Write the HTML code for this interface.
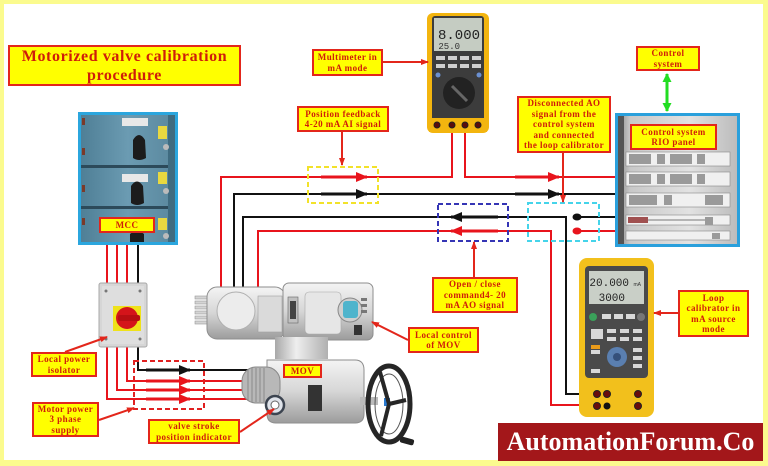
<!DOCTYPE html>
<html><head><meta charset="utf-8">
<style>
html,body{margin:0;padding:0;}
body{width:768px;height:466px;position:relative;overflow:hidden;background:#fbfb8e;font-family:"Liberation Serif",serif;}
.inner{position:absolute;left:4px;top:4px;width:759px;height:456px;background:#fff;}
svg{position:absolute;left:0;top:0;}
.lb{position:absolute;box-sizing:border-box;border:2px solid #e3261b;background:#ffff00;color:#cf1d0a;font-weight:bold;font-size:9px;line-height:10.5px;text-align:center;display:flex;align-items:center;justify-content:center;letter-spacing:0.45px;white-space:nowrap;}
.logo{position:absolute;left:498px;top:423px;width:265px;height:38px;background:#a3171a;color:#fff;font-weight:bold;font-size:26px;line-height:38px;text-align:center;font-family:"Liberation Serif",serif;white-space:nowrap;}
</style></head><body>
<div class="inner"></div>
<svg width="768" height="466" viewBox="0 0 768 466">
<defs>
<marker id="ar" markerWidth="8" markerHeight="8" refX="7" refY="4" orient="auto" markerUnits="userSpaceOnUse"><path d="M0,1 L8,4 L0,7 z" fill="#e3261b"/></marker>
<marker id="ag" markerWidth="9" markerHeight="9" refX="8" refY="4.5" orient="auto-start-reverse" markerUnits="userSpaceOnUse"><path d="M0,0 L9,4.5 L0,9 z" fill="#22dd22"/></marker>
<marker id="hr" markerWidth="12" markerHeight="10" refX="11" refY="5" orient="auto" markerUnits="userSpaceOnUse"><path d="M0,0 L12,5 L0,10 z" fill="#e8141c"/></marker>
<marker id="hb" markerWidth="12" markerHeight="10" refX="11" refY="5" orient="auto" markerUnits="userSpaceOnUse"><path d="M0,0 L12,5 L0,10 z" fill="#111"/></marker>
<linearGradient id="mv" x1="0" y1="0" x2="0" y2="1"><stop offset="0" stop-color="#f4f4f4"/><stop offset="0.5" stop-color="#d6d6d6"/><stop offset="1" stop-color="#9c9c9c"/></linearGradient>
<linearGradient id="mh" x1="0" y1="0" x2="1" y2="0"><stop offset="0" stop-color="#a8a8a8"/><stop offset="0.4" stop-color="#eeeeee"/><stop offset="1" stop-color="#b0b0b0"/></linearGradient>
<linearGradient id="mcc" x1="0" y1="0" x2="1" y2="0"><stop offset="0" stop-color="#4f7f96"/><stop offset="0.5" stop-color="#6b9bb2"/><stop offset="1" stop-color="#5a889e"/></linearGradient>
<linearGradient id="rio" x1="0" y1="0" x2="1" y2="0"><stop offset="0" stop-color="#8a8a8a"/><stop offset="0.1" stop-color="#c8c8c8"/><stop offset="0.6" stop-color="#e2e2e2"/><stop offset="1" stop-color="#bcbcbc"/></linearGradient>
</defs>

<!-- ===== wires ===== -->
<g fill="none" stroke-width="2">
 <path d="M221,290 V177 H452 V127" stroke="#e8141c"/>
 <path d="M465,127 V177 H616" stroke="#e8141c"/>
 <path d="M234,290 V194 H616" stroke="#111"/>
 <path d="M243,290 V217 H566 V394 H597" stroke="#111"/>
 <path d="M577,217 H616" stroke="#111"/>
 <path d="M258,290 V231 H551 V405 H597" stroke="#e8141c"/>
 <path d="M577,231 H616" stroke="#e8141c"/>
 <path d="M107,245 V284 M117,245 V284 M127,245 V284" stroke="#e8141c"/>
 <path d="M138,245 V284" stroke="#111"/>
 <path d="M138,346 V370 H248" stroke="#111"/>
 <path d="M127,346 V381 H248 M117,346 V390 H248 M107,346 V399 H248" stroke="#e8141c"/>
</g>
<ellipse cx="577" cy="217" rx="4.5" ry="3.5" fill="#111"/>
<ellipse cx="577" cy="231" rx="4.5" ry="3.5" fill="#e8141c"/>

<!-- thick arrows -->
<g stroke-width="3">
 <line x1="321" y1="177" x2="367" y2="177" stroke="#e8141c" marker-end="url(#hr)"/>
 <line x1="321" y1="194" x2="367" y2="194" stroke="#111" marker-end="url(#hb)"/>
 <line x1="515" y1="177" x2="559" y2="177" stroke="#e8141c" marker-end="url(#hr)"/>
 <line x1="515" y1="194" x2="559" y2="194" stroke="#111" marker-end="url(#hb)"/>
 <line x1="498" y1="217" x2="451" y2="217" stroke="#111" marker-end="url(#hb)"/>
 <line x1="498" y1="231" x2="451" y2="231" stroke="#e8141c" marker-end="url(#hr)"/>
 <line x1="146" y1="370" x2="190" y2="370" stroke="#111" marker-end="url(#hb)"/>
 <line x1="146" y1="381" x2="190" y2="381" stroke="#e8141c" marker-end="url(#hr)"/>
 <line x1="146" y1="390" x2="190" y2="390" stroke="#e8141c" marker-end="url(#hr)"/>
 <line x1="146" y1="399" x2="190" y2="399" stroke="#e8141c" marker-end="url(#hr)"/>
</g>

<!-- dashed boxes -->
<g fill="none" stroke-width="2" stroke-dasharray="5,3">
 <rect x="308" y="167" width="70" height="36" stroke="#f2e22a"/>
 <rect x="438" y="204" width="70" height="37" stroke="#3535b5"/>
 <rect x="528" y="203" width="71" height="38" stroke="#45d4ea"/>
 <rect x="134" y="361" width="70" height="48" stroke="#e02020"/>
</g>

<!-- ===== MCC ===== -->
<rect x="78" y="112" width="100" height="133" fill="#2ba6de"/>
<rect x="81" y="115" width="94" height="127" fill="url(#mcc)"/>
<rect x="81" y="165" width="94" height="3" fill="#2c4a5a"/>
<rect x="81" y="206" width="94" height="3" fill="#2c4a5a"/>
<rect x="168" y="115" width="7" height="127" fill="#3f6b80"/>
<rect x="82" y="118" width="3" height="7" fill="#7a3a2a"/><rect x="82" y="148" width="3" height="7" fill="#7a3a2a"/><rect x="82" y="185" width="3" height="7" fill="#7a3a2a"/><rect x="82" y="218" width="3" height="7" fill="#7a3a2a"/>
<rect x="122" y="118" width="26" height="8" fill="#e8e8e8"/>
<rect x="122" y="174" width="26" height="8" fill="#e8e8e8"/>
<rect x="158" y="126" width="9" height="13" fill="#e8d840"/>
<rect x="158" y="172" width="9" height="12" fill="#e8d840"/>
<rect x="158" y="218" width="9" height="12" fill="#e8d840"/>
<path d="M133,140 Q139,130 145,140 L146,158 Q139,162 133,158 Z" fill="#1c1c1c"/>
<path d="M131,186 Q137,177 143,186 L144,203 Q137,207 131,203 Z" fill="#1c1c1c"/>
<path d="M130,234 Q137,228 144,234 L144,242 L130,242 Z" fill="#1c1c1c"/>
<circle cx="166" cy="147" r="3" fill="#bbb"/><circle cx="166" cy="191" r="3" fill="#bbb"/><circle cx="166" cy="236" r="3" fill="#bbb"/>

<!-- ===== Isolator ===== -->
<rect x="99" y="283" width="48" height="64" rx="2" fill="#d6d6d6" stroke="#a8a8a8"/>
<rect x="102" y="286" width="42" height="58" fill="#dedede"/>
<circle cx="106" cy="291" r="1.5" fill="#777"/><circle cx="140" cy="291" r="1.5" fill="#777"/><circle cx="106" cy="339" r="1.5" fill="#777"/><circle cx="140" cy="339" r="1.5" fill="#777"/>
<rect x="113" y="306" width="28" height="25" fill="#efe21a"/>
<circle cx="127" cy="318" r="11" fill="#d4141a"/>
<rect x="118" y="315" width="22" height="6" rx="2" fill="#b80e12"/>

<!-- ===== Actuator ===== -->
<g>
 <g fill="#d4d4d4" stroke="#9a9a9a" stroke-width="0.6">
  <rect x="195" y="296" width="16" height="3"/><rect x="195" y="301" width="16" height="3"/><rect x="195" y="306" width="16" height="3"/><rect x="195" y="311" width="16" height="3"/><rect x="195" y="316" width="16" height="3"/><rect x="195" y="321" width="16" height="3"/>
 </g>
 <rect x="207" y="287" width="78" height="52" rx="10" fill="url(#mv)" stroke="#8e8e8e"/>
 <circle cx="236" cy="311" r="19" fill="#ececec" stroke="#b0b0b0"/>
 <rect x="258" y="296" width="24" height="36" fill="#dadada" stroke="#a0a0a0" stroke-width="0.6"/>
 <rect x="283" y="283" width="90" height="57" rx="6" fill="url(#mv)" stroke="#8e8e8e"/>
 <rect x="288" y="297" width="10" height="26" fill="#c0c0c0" stroke="#666" stroke-width="0.6"/>
 <rect x="290" y="301" width="6" height="18" fill="#444"/>
 <rect x="305" y="292" width="36" height="42" rx="4" fill="#e6e6e6" stroke="#a8a8a8" stroke-width="0.6"/>
 <circle cx="350" cy="310" r="12" fill="#cfcfcf" stroke="#888"/>
 <rect x="343" y="301" width="15" height="17" rx="3" fill="#4fb4cc"/>
 <rect x="361" y="298" width="6" height="3" fill="#777"/><rect x="361" y="304" width="6" height="3" fill="#777"/><rect x="361" y="310" width="6" height="3" fill="#777"/>
 <rect x="354" y="325" width="8" height="10" fill="#333"/>
 <rect x="275" y="337" width="53" height="22" fill="url(#mh)"/>
 <rect x="330" y="360" width="30" height="20" rx="8" fill="#cdcdcd" stroke="#999"/>
 <path d="M267,360 H355 Q364,360 364,370 V414 Q364,423 355,423 H276 Q267,423 267,414 Z" fill="url(#mv)" stroke="#8e8e8e"/>
 <rect x="242" y="367" width="38" height="36" rx="14" fill="#b8b8b8" stroke="#888"/>
 <g stroke="#8a8a8a" stroke-width="1"><line x1="248" y1="369" x2="248" y2="401"/><line x1="252" y1="368" x2="252" y2="402"/><line x1="256" y1="368" x2="256" y2="402"/><line x1="260" y1="368" x2="260" y2="402"/><line x1="264" y1="368" x2="264" y2="402"/></g>
 <rect x="308" y="385" width="14" height="26" fill="#333"/>
 <circle cx="275" cy="405" r="9" fill="#dfe3ea" stroke="#3c4450" stroke-width="2.5"/>
 <circle cx="275" cy="405" r="4" fill="#fff" stroke="#666"/>
 <rect x="360" y="397" width="18" height="8" fill="#bbb"/>
 <rect x="384" y="398" width="6" height="8" fill="#2a7ad0"/>
 <ellipse cx="389" cy="404" rx="21" ry="38" fill="none" stroke="#262626" stroke-width="5"/>
 <ellipse cx="389" cy="404" rx="14" ry="30" fill="none" stroke="#555" stroke-width="1"/>
 <line x1="389" y1="404" x2="380" y2="372" stroke="#262626" stroke-width="4"/>
 <line x1="389" y1="404" x2="381" y2="436" stroke="#262626" stroke-width="4"/>
 <line x1="389" y1="404" x2="406" y2="400" stroke="#262626" stroke-width="4"/>
 <rect x="400" y="438" width="14" height="6" rx="2" fill="#222" transform="rotate(15 407 441)"/>
</g>

<!-- ===== Multimeter ===== -->
<rect x="427" y="13" width="62" height="120" rx="6" fill="#f3b50f"/>
<rect x="432" y="16" width="52" height="106" rx="3" fill="#3c3c3c"/>
<rect x="434" y="18" width="48" height="33" fill="#c5ccc2"/>
<text x="480" y="39" text-anchor="end" font-family="Liberation Mono,monospace" font-size="14" fill="#222">8.000</text>
<text x="460" y="49" text-anchor="end" font-family="Liberation Mono,monospace" font-size="9" fill="#333">25.0</text>
<g fill="#cfcfcf"><rect x="436" y="56" width="9" height="4"/><rect x="448" y="56" width="9" height="4"/><rect x="460" y="56" width="9" height="4"/><rect x="472" y="56" width="9" height="4"/>
<rect x="436" y="64" width="9" height="4"/><rect x="448" y="64" width="9" height="4"/><rect x="460" y="64" width="9" height="4"/><rect x="472" y="64" width="9" height="4"/></g>
<circle cx="438" cy="75" r="2.5" fill="#6a8fd0"/><circle cx="479" cy="75" r="2.5" fill="#6a8fd0"/>
<circle cx="459" cy="93" r="16" fill="#222"/>
<line x1="452" y1="86" x2="467" y2="101" stroke="#666" stroke-width="3"/>
<rect x="429" y="118" width="58" height="14" fill="#f3b50f"/>
<g fill="#5a0c0c" stroke="#222" stroke-width="1"><circle cx="437" cy="125" r="3"/><circle cx="452" cy="125" r="3"/><circle cx="465" cy="125" r="3"/><circle cx="478" cy="125" r="3"/></g>

<!-- ===== Control system / RIO ===== -->
<line x1="667" y1="74" x2="667" y2="111" stroke="#22dd22" stroke-width="3" marker-start="url(#ag)" marker-end="url(#ag)"/>
<rect x="615" y="113" width="125" height="134" fill="#2aa0dc"/>
<rect x="618" y="116" width="119" height="128" fill="url(#rio)"/>
<rect x="618" y="116" width="6" height="128" fill="#555"/>
<g fill="#f0f0f0" stroke="#888" stroke-width="0.6">
 <rect x="626" y="152" width="104" height="14"/>
 <rect x="626" y="172" width="104" height="14"/>
 <rect x="626" y="193" width="104" height="14"/>
 <rect x="626" y="215" width="104" height="10"/>
 <rect x="626" y="231" width="104" height="9"/>
</g>
<g fill="#9a9a9a">
 <rect x="629" y="154" width="22" height="10"/><rect x="657" y="154" width="8" height="10"/><rect x="670" y="154" width="22" height="10"/><rect x="697" y="154" width="8" height="10"/>
 <rect x="629" y="174" width="22" height="10"/><rect x="657" y="174" width="8" height="10"/><rect x="670" y="174" width="22" height="10"/><rect x="697" y="174" width="8" height="10"/>
 <rect x="629" y="195" width="28" height="10"/><rect x="664" y="195" width="8" height="10"/><rect x="705" y="195" width="18" height="10"/>
 <rect x="705" y="217" width="8" height="8"/>
 <rect x="712" y="233" width="8" height="6"/>
</g>
<rect x="628" y="217" width="20" height="6" fill="#a05050"/>
<line x1="648" y1="220" x2="705" y2="220" stroke="#777" stroke-width="1"/>

<!-- ===== Loop calibrator ===== -->
<rect x="579" y="258" width="75" height="159" rx="8" fill="#f2c01c"/>
<rect x="585" y="266" width="63" height="112" rx="4" fill="#4a4a4a"/>
<rect x="589" y="271" width="55" height="33" fill="#c9cfc7"/>
<text x="629" y="286" text-anchor="end" font-family="Liberation Mono,monospace" font-size="11" fill="#222">20.000</text>
<text x="625" y="301" text-anchor="end" font-family="Liberation Mono,monospace" font-size="11" fill="#222">3000</text>
<text x="641" y="286" text-anchor="end" font-family="Liberation Sans,sans-serif" font-size="5" fill="#333">mA</text>
<circle cx="593" cy="317" r="4" fill="#3aa05a"/><circle cx="641" cy="317" r="4" fill="#777"/>
<g fill="#d8d8d8"><rect x="602" y="314" width="9" height="5"/><rect x="614" y="314" width="9" height="5"/><rect x="626" y="314" width="9" height="5"/>
<rect x="591" y="329" width="12" height="10"/><rect x="607" y="329" width="9" height="4"/><rect x="620" y="329" width="9" height="4"/><rect x="633" y="329" width="9" height="4"/>
<rect x="607" y="337" width="9" height="4"/><rect x="620" y="337" width="9" height="4"/><rect x="633" y="337" width="9" height="4"/>
<rect x="591" y="350" width="9" height="4"/><rect x="633" y="348" width="9" height="4"/><rect x="633" y="356" width="9" height="4"/><rect x="633" y="364" width="9" height="4"/><rect x="591" y="369" width="9" height="4"/></g>
<rect x="591" y="345" width="9" height="4" fill="#e89a1a"/>
<circle cx="617" cy="357" r="10" fill="#5a7fb0"/><circle cx="617" cy="357" r="4" fill="#35507a"/>
<g fill="#6a0c0c" stroke="#222" stroke-width="1"><circle cx="597" cy="394" r="3.5"/><circle cx="607" cy="394" r="3.5"/><circle cx="638" cy="394" r="3.5"/><circle cx="597" cy="406" r="3.5"/><circle cx="638" cy="406" r="3.5"/></g>
<circle cx="607" cy="406" r="3.5" fill="#111"/>

<!-- ===== label pointer lines ===== -->
<g stroke="#e3261b" stroke-width="2" fill="none">
 <line x1="383" y1="62" x2="428" y2="62" marker-end="url(#ar)"/>
 <line x1="342" y1="132" x2="342" y2="165" marker-end="url(#ar)"/>
 <line x1="563" y1="153" x2="563" y2="202" marker-end="url(#ar)"/>
 <line x1="474" y1="277" x2="474" y2="242" marker-end="url(#ar)"/>
 <line x1="408" y1="340" x2="372" y2="322" marker-end="url(#ar)"/>
 <line x1="678" y1="313" x2="654" y2="313" marker-end="url(#ar)"/>
 <line x1="65" y1="352" x2="107" y2="337" marker-end="url(#ar)"/>
 <line x1="99" y1="420" x2="134" y2="408" marker-end="url(#ar)"/>
 <line x1="240" y1="432" x2="274" y2="409" marker-end="url(#ar)"/>
</g>
</svg>

<div class="lb" style="left:8px;top:45px;width:233px;height:41px;font-size:16px;line-height:19px;letter-spacing:0.6px;">Motorized valve calibration<br>procedure</div>
<div class="lb" style="left:99px;top:217px;width:56px;height:16px;">MCC</div>
<div class="lb" style="left:312px;top:49px;width:71px;height:27px;">Multimeter in<br>mA mode</div>
<div class="lb" style="left:297px;top:106px;width:92px;height:26px;">Position feedback<br>4-20 mA AI signal</div>
<div class="lb" style="left:517px;top:96px;width:94px;height:57px;">Disconnected AO<br>signal from the<br>control system<br>and connected<br>the loop calibrator</div>
<div class="lb" style="left:636px;top:46px;width:64px;height:25px;">Control<br>system</div>
<div class="lb" style="left:630px;top:124px;width:87px;height:26px;">Control system<br>RIO panel</div>
<div class="lb" style="left:432px;top:277px;width:86px;height:36px;">Open / close<br>command4- 20<br>mA AO signal</div>
<div class="lb" style="left:408px;top:327px;width:71px;height:26px;">Local control<br>of MOV</div>
<div class="lb" style="left:283px;top:364px;width:39px;height:14px;">MOV</div>
<div class="lb" style="left:678px;top:290px;width:71px;height:47px;">Loop<br>calibrator in<br>mA source<br>mode</div>
<div class="lb" style="left:31px;top:352px;width:66px;height:25px;">Local power<br>isolator</div>
<div class="lb" style="left:32px;top:402px;width:67px;height:35px;">Motor power<br>3 phase<br>supply</div>
<div class="lb" style="left:148px;top:419px;width:92px;height:25px;">valve stroke<br>position indicator</div>
<div class="logo">AutomationForum.Co</div>
</body></html>
